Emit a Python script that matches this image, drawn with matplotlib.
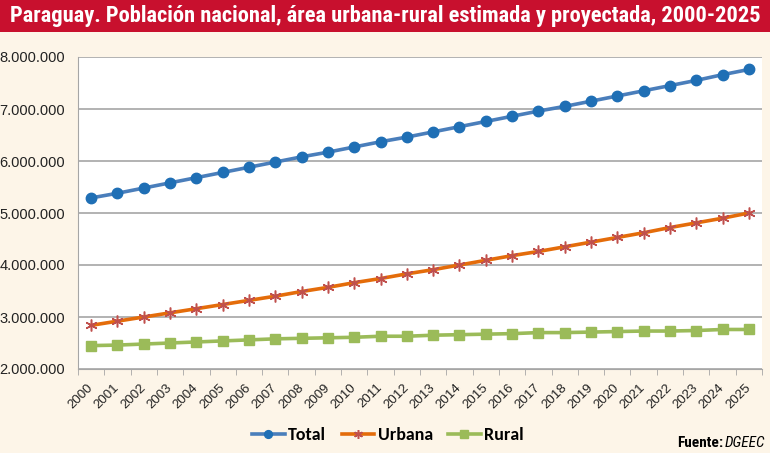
import matplotlib
matplotlib.use("Agg")
import matplotlib.pyplot as plt
from matplotlib.ticker import FuncFormatter, MultipleLocator
from matplotlib import font_manager

years = list(range(2000, 2026))
total = [5.29, 5.38, 5.48, 5.58, 5.68, 5.78, 5.88, 5.98, 6.08, 6.17, 6.27, 6.37, 6.46,
         6.56, 6.66, 6.76, 6.86, 6.96, 7.05, 7.15, 7.25, 7.35, 7.45, 7.55, 7.66, 7.76]
urbana = [2.84, 2.92, 3.00, 3.08, 3.16, 3.24, 3.32, 3.40, 3.49, 3.57, 3.66, 3.74, 3.83,
          3.91, 4.00, 4.09, 4.18, 4.26, 4.35, 4.44, 4.53, 4.62, 4.72, 4.81, 4.90, 5.00]
rural = [2.45, 2.46, 2.48, 2.50, 2.52, 2.54, 2.56, 2.58, 2.59, 2.60, 2.61, 2.63, 2.63,
         2.65, 2.66, 2.67, 2.68, 2.70, 2.70, 2.71, 2.72, 2.73, 2.73, 2.74, 2.76, 2.76]
total = [v * 1e6 for v in total]
urbana = [v * 1e6 for v in urbana]
rural = [v * 1e6 for v in rural]

names = {f.name for f in font_manager.fontManager.ttflist}
narrow = "DejaVu Sans"
for cand in ["Roboto Condensed", "Archivo Narrow", "PT Sans Narrow", "Fira Sans Condensed",
             "Barlow Condensed", "Liberation Sans Narrow", "Open Sans Condensed", "Oswald"]:
    if cand in names:
        narrow = cand
        break
legfont = "DejaVu Sans"
for cand in ["Carlito", "Lato", "Open Sans"]:
    if cand in names:
        legfont = cand
        break
regular = "Liberation Sans" if "Liberation Sans" in names else "DejaVu Sans"

bg = "#fdf5e8"
fig = plt.figure(figsize=(7.7, 4.53), dpi=100, facecolor=bg)

# title bar
fig.patches.append(plt.Rectangle((0, 1 - 32 / 453), 1, 32 / 453, transform=fig.transFigure,
                                 facecolor="#c8102e", edgecolor="none", zorder=0))
fig.text(0.5, 1 - 16 / 453, "Paraguay. Población nacional, área urbana-rural estimada y proyectada, 2000-2025",
         ha="center", va="center", color="white", fontsize=16.2, fontweight="bold", family=narrow)

ax = fig.add_axes([78 / 770, 1 - 369 / 453, (762 - 78) / 770, (369 - 57) / 453])
ax.set_facecolor("white")
x = list(range(len(years)))
ax.plot(x, total, color="#4a7ebb", lw=2.6, marker="o", ms=7.5, mfc="#1f6fb5", mec="#1f6fb5",
        label="Total", zorder=3)
ax.plot(x, urbana, color="#e46c0a", lw=2.6, marker=(6, 2, 0), ms=8.5, mec="#c0504d", mew=1.1,
        label="Urbana", zorder=3)
ax.plot(x, rural, color="#9bbb59", lw=2.6, marker="s", ms=7, mfc="#9bbb59", mec="#9bbb59",
        label="Rural", zorder=3)

ax.set_xlim(-0.5, len(years) - 0.5)
ax.set_ylim(2e6, 8e6)
ax.yaxis.set_major_locator(MultipleLocator(1e6))
ax.yaxis.set_major_formatter(FuncFormatter(lambda v, p: f"{int(v):,}".replace(",", ".")))
ax.grid(axis="y", color="#a6a6a6", lw=1.2)
ax.set_axisbelow(True)
for s in ["top", "right"]:
    ax.spines[s].set_visible(False)
ax.spines["left"].set_color("#a6a6a6")
ax.spines["bottom"].set_color("#a6a6a6")
ax.tick_params(axis="y", length=0, pad=9.5, colors="#222222")
for lab in ax.get_yticklabels():
    lab.set_family(regular)
    lab.set_fontsize(10.5)
ax.set_xticks(x)
ax.set_xticklabels([str(y) for y in years], rotation=45, ha="right", va="center",
                   rotation_mode="anchor", fontsize=9.5, family=regular, color="#222222")
ax.tick_params(axis="x", length=0, pad=12)
ax.set_xticks([i - 0.5 for i in range(len(years) + 1)], minor=True)
ax.tick_params(axis="x", which="minor", length=4, color="#a6a6a6")

fig.legend(loc="center", bbox_to_anchor=(388 / 770, 1 - 435 / 453), ncol=3, frameon=False,
           prop={"family": legfont, "weight": "bold", "size": 13}, handlelength=1.8,
           columnspacing=0.85, handletextpad=0.2, markerscale=0.75)
fig.text(765 / 770, 1 - 443 / 453, "DGEEC", ha="right", va="center", fontsize=11,
         family=narrow, style="italic")
fig.text(723 / 770, 1 - 443 / 453, "Fuente:", ha="right", va="center", fontsize=11,
         family=narrow, fontweight="bold")

fig.savefig("out.png", dpi=100, facecolor=bg)
